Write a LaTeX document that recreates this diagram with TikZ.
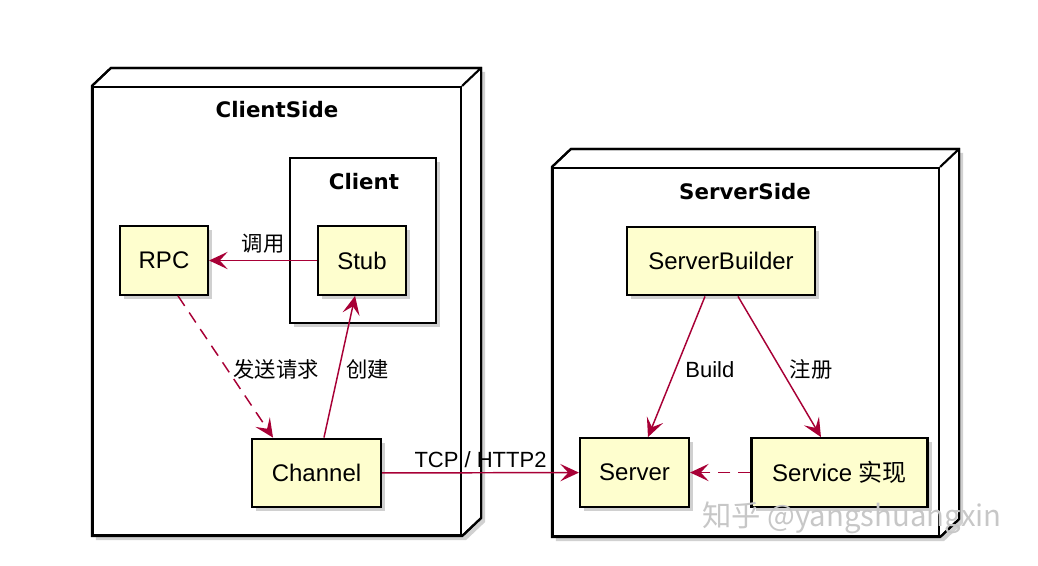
\documentclass[tikz,border=0pt]{standalone}
\usepackage{fontspec}
\setmainfont{Liberation Sans}
\newfontfamily\cjkfont{Noto Sans CJK SC}
\newfontfamily\ttlfont{DejaVu Sans}
\usetikzlibrary{arrows.meta,positioning,shadows,backgrounds}
\definecolor{umlfill}{HTML}{FEFECE}
\definecolor{umlred}{HTML}{A80036}
\definecolor{umlshade}{HTML}{7A7A7A}

\begin{document}
\begin{tikzpicture}[
  x=0.75pt, y=-0.75pt,
  umlshadow/.style={drop shadow={shadow xshift=3pt, shadow yshift=-3pt,
                    fill=umlshade, opacity=0.35}},
  plainframe/.style={draw=black, line width=1.6pt, fill=white, inner sep=0pt},
  frame/.style={plainframe, umlshadow},
  box/.style={draw=black, line width=1.6pt, fill=umlfill, umlshadow,
              font=\fontsize{18}{21}\selectfont, minimum height=51.5pt},
  ttl/.style={font=\ttlfont\bfseries\fontsize{16}{19}\selectfont},
  lbl/.style={font=\fontsize{16.5}{19}\selectfont, inner sep=2pt},
  zh/.style={font=\cjkfont\fontsize{16}{19}\selectfont, inner sep=2pt},
  conn/.style={draw=umlred, line width=1.1pt,
               -{Stealth[length=14pt, width=13pt, inset=6pt]}},
  dashconn/.style={conn, dash pattern=on 9pt off 6pt},
]
\useasboundingbox (0,0) rectangle (1038,565);

% ---------------- the two deployment nodes ---------------------------
\node[plainframe, minimum width=276pt, minimum height=336pt] (clientside) at (277,311) {};
\node[plainframe, minimum width=289.5pt, minimum height=276pt] (serverside) at (746,352) {};

\foreach \n in {clientside, serverside} {
  \begin{scope}[on background layer]
    \draw[plainframe, umlshadow]
      (\n.north west) -- ++(19,-18) -- ([shift={(19,-18)}]\n.north east)
      -- ([shift={(19,-18)}]\n.south east) -- (\n.south east)
      -- (\n.south west) -- cycle;
  \end{scope}
  \draw[line width=1.6pt, line join=miter]
    (\n.north west) -- ++(19,-18) -- ([shift={(19,-18)}]\n.north east)
    -- ([shift={(19,-18)}]\n.south east) -- (\n.south east)
    (\n.north east) -- ([shift={(19,-18)}]\n.north east);
}

\node[ttl] (clientsidettl) at (277,110) {ClientSide};
\node[ttl] (serversidettl) at (745,192) {ServerSide};

% ---------------- client package -------------------------------------
\node[frame, minimum width=109.5pt, minimum height=123.75pt] (client) at (363,240.5) {};
\node[ttl] (clientttl) at (364,182) {Client};

% ---------------- boxes ----------------------------------------------
\node[box, minimum width=66pt] (rpc) at (164,260.5) {RPC};
\node[box, minimum width=66pt] (stub) at (362,260.5) {Stub};
\node[box, minimum width=96.75pt] (channel) at (316.5,473) {Channel};

\node[box, minimum width=141pt] (builder) at (721,261) {ServerBuilder};
\node[box, minimum width=81.75pt] (server) at (634.5,472.5) {Server};
\node[box, minimum width=132pt] (service) at (839.5,472.5) {Service {\cjkfont 实现}};

% ---------------- connectors -----------------------------------------
\draw[conn] (stub) -- node[zh, above=3pt] (calllbl) {调用} (rpc);
\draw[dashconn] ([xshift=10.5pt]rpc.south) -- node[zh, right=2pt, pos=0.52] (sendlbl) {发送请求}
  ([xshift=-32.6pt]channel.north);
\draw[conn] ([xshift=5.6pt]channel.north) -- node[zh, right=3pt, pos=0.48] (createlbl) {创建}
  ([xshift=-5.2pt]stub.south);
\draw[conn] (channel) -- node[lbl, above=1pt] (tcplbl) {TCP / HTTP2} (server);

\draw[conn] ([xshift=-12pt]builder.south) -- node[lbl, right=5pt, pos=0.52] (buildlbl) {Build}
  ([xshift=10.1pt]server.north);
\draw[conn] ([xshift=12.75pt]builder.south) -- node[zh, right=4pt, pos=0.52] (reglbl) {注册}
  ([xshift=-13.9pt]service.north);
\draw[dashconn] (service) -- (server);

% ---------------- watermark ------------------------------------------
\node[font=\cjkfont\fontsize{22}{26}\selectfont, text=black!22] (mark) at (852,518)
  {知乎 @yangshuangxin};

\end{tikzpicture}
\end{document}
